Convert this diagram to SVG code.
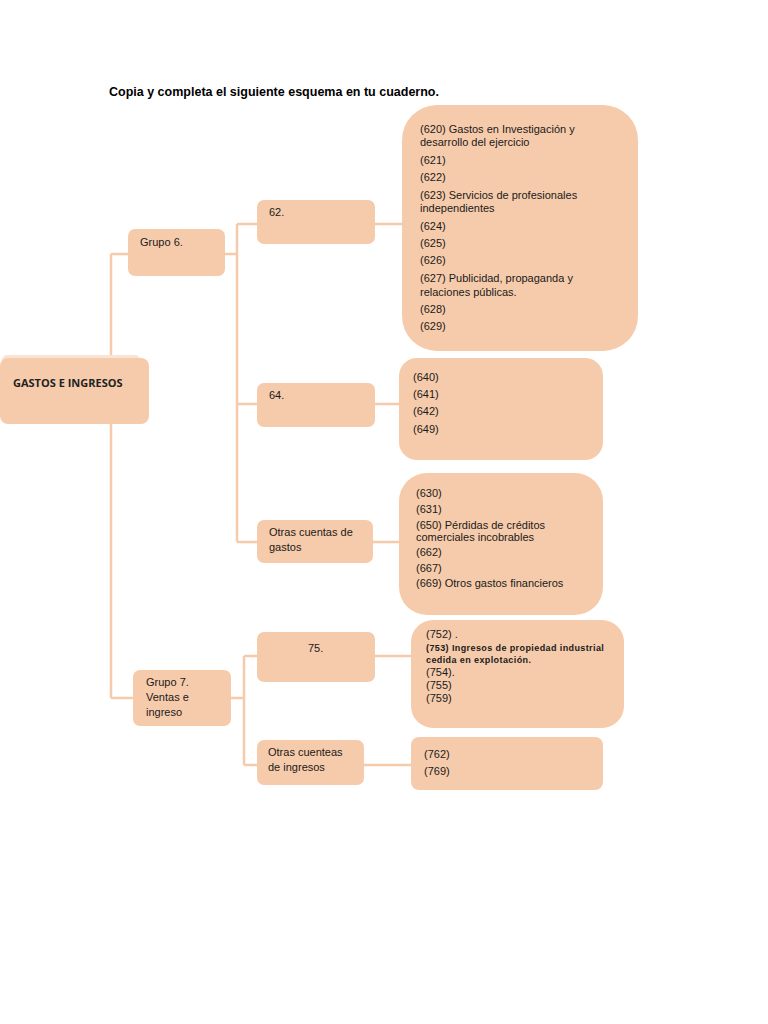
<svg xmlns="http://www.w3.org/2000/svg" width="768" height="1024" viewBox="0 0 768 1024">
<style>
.b{fill:#F6CBAB}
.t{font-family:"Liberation Sans",Arial,sans-serif;font-size:11px;fill:#1a1a1a}
.s{font-family:"Liberation Sans",Arial,sans-serif;font-size:9px;font-weight:bold;fill:#1a1a1a;letter-spacing:0.4px}
.c{stroke:#F6CBAB;stroke-width:2.5;fill:none}
</style>
<rect width="768" height="1024" fill="#fff"/>
<text x="109" y="96" font-family="Liberation Sans,Arial,sans-serif" font-size="12.5" font-weight="bold" fill="#000">Copia y completa el siguiente esquema en tu cuaderno.</text>
<g id="connectors">
<path class="c" d="M111 254V698M111 254H128M111 698H133M225 254H237M237 224V542M237 224H258M237 404H258M237 542H258M375 224H402M375 404H399M373 542H399M231 698H244M244 656V765M244 656H258M244 765H258M375 656H411M364 765H411"/>
</g>
<g id="root"><rect x="2" y="355" width="138" height="10" rx="5" fill="#FBE3D3"/><rect class="b" x="0" y="358" width="149" height="66" rx="8"/><text x="13" y="387" font-family="Open Sans,Liberation Sans,sans-serif" font-size="11" font-weight="bold" fill="#222">GASTOS E INGRESOS</text></g>
<g id="grupo6"><rect class="b" x="128" y="229" width="97" height="47" rx="7"/><text class="t" x="140" y="246">Grupo 6.</text></g>
<g id="n62"><rect class="b" x="257" y="200" width="118" height="44" rx="7"/><text class="t" x="269" y="216">62.</text></g>
<g id="n64"><rect class="b" x="257" y="383" width="118" height="44" rx="7"/><text class="t" x="269" y="399">64.</text></g>
<g id="otras"><rect class="b" x="257" y="520" width="116" height="43" rx="7"/><text class="t" x="269" y="536">Otras cuentas de</text><text class="t" x="269" y="551">gastos</text></g>
<g id="d62"><rect class="b" x="402" y="105" width="236" height="246" rx="35"/>
<text class="t" x="420" y="133">(620) Gastos en Investigación y</text>
<text class="t" x="420" y="146">desarrollo del ejercicio</text>
<text class="t" x="420" y="164">(621)</text>
<text class="t" x="420" y="181">(622)</text>
<text class="t" x="420" y="199">(623) Servicios de profesionales</text>
<text class="t" x="420" y="212">independientes</text>
<text class="t" x="420" y="230">(624)</text>
<text class="t" x="420" y="247">(625)</text>
<text class="t" x="420" y="264">(626)</text>
<text class="t" x="420" y="282">(627) Publicidad, propaganda y</text>
<text class="t" x="420" y="296">relaciones públicas.</text>
<text class="t" x="420" y="313">(628)</text>
<text class="t" x="420" y="330">(629)</text></g>
<g id="d64"><rect class="b" x="399" y="358" width="204" height="102" rx="18"/>
<text class="t" x="413" y="381">(640)</text><text class="t" x="413" y="398">(641)</text><text class="t" x="413" y="415">(642)</text><text class="t" x="413" y="433">(649)</text></g>
<g id="dotras"><rect class="b" x="399" y="473" width="204" height="142" rx="28"/>
<text class="t" x="416" y="497">(630)</text><text class="t" x="416" y="513">(631)</text>
<text class="t" x="416" y="529">(650) Pérdidas de créditos</text><text class="t" x="416" y="541">comerciales incobrables</text>
<text class="t" x="416" y="556">(662)</text><text class="t" x="416" y="572">(667)</text><text class="t" x="416" y="587">(669) Otros gastos financieros</text></g>
<g id="grupo7"><rect class="b" x="133" y="670" width="98" height="56" rx="7"/><text class="t" x="146" y="686">Grupo 7.</text><text class="t" x="146" y="701">Ventas e</text><text class="t" x="146" y="716">ingreso</text></g>
<g id="n75"><rect class="b" x="257" y="632" width="118" height="50" rx="7"/><text class="t" x="308" y="652">75.</text></g>
<g id="otrasing"><rect class="b" x="257" y="740" width="107" height="45" rx="7"/><text class="t" x="268" y="756">Otras cuenteas</text><text class="t" x="268" y="771">de ingresos</text></g>
<g id="d75"><rect class="b" x="411" y="620" width="213" height="108" rx="22"/>
<text class="t" x="426" y="638" font-size="10">(752) .</text>
<text class="s" x="426" y="651">(753) Ingresos de propiedad industrial</text>
<text class="s" x="426" y="663">cedida en explotación.</text>
<text class="t" x="426" y="676" font-size="10">(754).</text>
<text class="t" x="426" y="689" font-size="10">(755)</text>
<text class="t" x="426" y="702" font-size="10">(759)</text></g>
<g id="d76"><rect class="b" x="411" y="737" width="192" height="53" rx="8"/>
<text class="t" x="424" y="758">(762)</text><text class="t" x="424" y="775">(769)</text></g>
</svg>
